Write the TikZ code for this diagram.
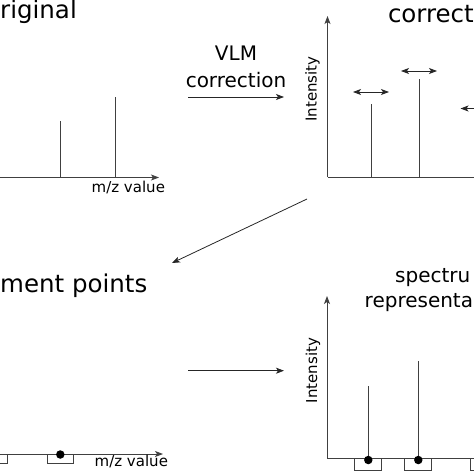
\documentclass[tikz,border=0pt]{standalone}
\usepackage{fontspec}
\setmainfont{DejaVu Sans}
\usetikzlibrary{arrows.meta}

\begin{document}
\begin{tikzpicture}[x=1pt, y=-1pt,
        title/.style={inner sep=0pt, font=\fontsize{24.5}{29}\selectfont},
        caption/.style={inner sep=0pt, align=center, font=\fontsize{20}{27}\selectfont},
        axislabel/.style={inner sep=0pt, font=\fontsize{15}{18}\selectfont},
        axis/.style={draw=black!75, line width=0.9pt, -{Stealth[length=8pt, width=6pt, inset=2pt]}},
        peak/.style={draw=black!75, line width=0.9pt},
        shiftarrow/.style={draw=black!85, line width=0.9pt, {Stealth[length=8pt, width=6pt, inset=2pt]}-{Stealth[length=8pt, width=6pt, inset=2pt]}},
        flow/.style={draw=black!85, line width=0.8pt, -{Stealth[length=8pt, width=6pt, inset=2pt]}},
        bin/.style={draw=black!75, line width=0.8pt},
        centroid/.style={fill=black, circle, inner sep=0pt, minimum size=8.5pt}
      ]
      \useasboundingbox (0,0) rectangle (474,474);

      % titles of the four panels
      \node[title, anchor=base west] (orig) at (0,18) {riginal};
      \node[title, anchor=base east] (corr) at (474,22) {correct};
      \node[title, anchor=base west] (align) at (0,292) {ment points};
      \node[caption, anchor=base west] (specA) at (395,282) {spectru};
      \node[caption, anchor=base west] (specB) at (364.5,307) {representa};

      % original spectrum
      \draw[axis] (-5,177.5) -- (159,177.5);
      \draw[peak] (60.5,177.5) -- (60.5,121);
      \draw[peak] (115.7,177.5) -- (115.7,97);
      \node[axislabel, anchor=base west] (mzA) at (91.5,192) {m/z value};

      % corrected spectrum
      \draw[axis] (327.5,177) -- (327.5,16);
      \draw[peak] (327.5,177) -- (480,177);
      \draw[peak] (371.5,177) -- (371.5,104);
      \draw[peak] (419.3,177) -- (419.3,79);
      \draw[shiftarrow] (353,92) -- (389,92);
      \draw[shiftarrow] (401,71) -- (437,71);
      \draw[shiftarrow] (460.5,108.5) -- (497,108.5);
      \node[axislabel, rotate=90, anchor=base] (intA) at (316.5,89) {Intensity};

      % alignment points
      \draw[bin] (-20,454) rectangle (7,463);
      \draw[bin] (47,454) rectangle (73.5,463);
      \draw[axis] (-5,454) -- (163,454);
      \node[centroid] (ptA) at (60.3,454.5) {};
      \node[axislabel, anchor=base west] (mzB) at (94.5,466) {m/z value};

      % spectrum representation
      \draw[bin] (354,458.3) rectangle (381,470);
      \draw[bin] (404,458.3) rectangle (431.7,470);
      \draw[bin] (470.7,458.3) rectangle (498,470);
      \draw[axis] (327,458.3) -- (327,296);
      \draw[peak] (327,458.3) -- (480,458.3);
      \draw[peak] (368.3,458.3) -- (368.3,386);
      \draw[peak] (418.3,458.3) -- (418.3,361);
      \node[centroid] (ptB) at (368.3,460) {};
      \node[centroid] (ptC) at (418.3,460) {};
      \node[axislabel, rotate=90, anchor=base] (intB) at (317,370.5) {Intensity};

      % steps between the panels
      \coordinate (vlmS) at (188,97);
      \coordinate (vlmE) at (284,97);
      \coordinate (diagS) at (307,199);
      \coordinate (diagE) at (172,263);
      \coordinate (repS) at (188,370.7);
      \coordinate (repE) at (284,370.7);
      \draw[flow] (vlmS) -- (vlmE);
      \node[caption] (vlm) at (236,66.5) {VLM\\correction};
      \draw[flow] (diagS) -- (diagE);
      \draw[flow] (repS) -- (repE);
    \end{tikzpicture}
\end{document}
